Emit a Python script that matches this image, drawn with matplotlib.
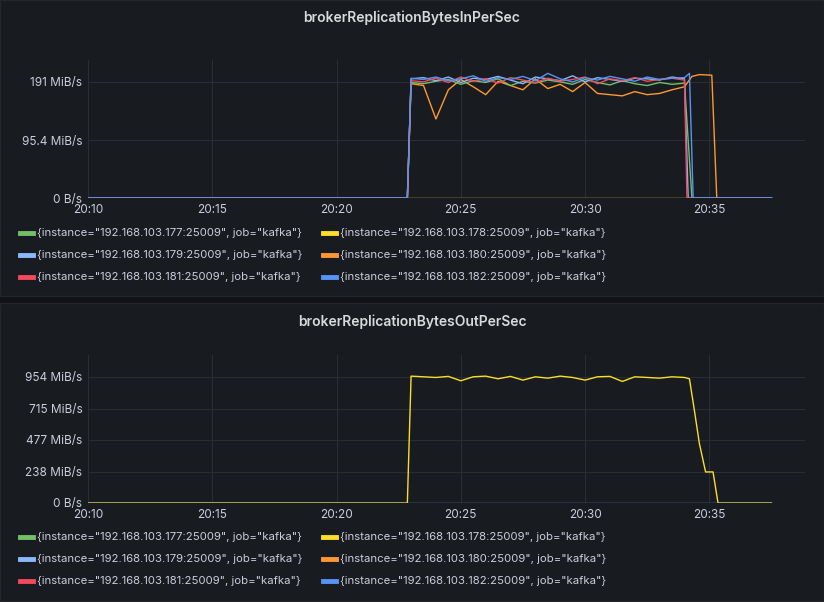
import matplotlib
matplotlib.use("Agg")
import matplotlib.pyplot as plt
from matplotlib.patches import Rectangle
from matplotlib.lines import Line2D

plt.rcParams["font.family"] = ["Inter", "DejaVu Sans"]

# time in minutes after 20:00
plateau_t = [23.0, 23.5, 24.0, 24.5, 25.0, 25.5, 26.0, 26.5, 27.0, 27.5, 28.0, 28.5,
             29.0, 29.5, 30.0, 30.5, 31.0, 31.5, 32.0, 32.5, 33.0, 33.5, 34.0]

in_green = [190, 188, 192, 195, 187, 193, 190, 196, 185, 192, 189, 194, 191, 187, 195, 190, 186, 193, 188, 185, 190, 187, 189]
in_lblue = [196, 198, 193, 199, 190, 197, 195, 200, 194, 188, 199, 196, 193, 201, 191, 198, 195, 192, 197, 196, 194, 199, 196]
in_red = [193, 191, 197, 190, 199, 192, 196, 189, 198, 194, 190, 197, 192, 195, 199, 188, 196, 193, 198, 192, 195, 197, 194]
in_blue = [197, 195, 199, 193, 196, 201, 192, 198, 195, 200, 193, 205, 196, 191, 198, 194, 200, 196, 192, 199, 195, 197, 198]
in_orange = [188, 185, 130, 178, 195, 183, 170, 192, 185, 178, 196, 180, 187, 175, 190, 172, 170, 168, 175, 170, 172, 178, 183]

green_tail_t, green_tail = [34.3], [0]
lblue_tail_t, lblue_tail = [34.15], [0]
red_tail_t, red_tail = [34.1], [0]
blue_tail_t, blue_tail = [34.2, 34.35], [205, 0]
orange_tail_t, orange_tail = [34.3, 34.6, 35.1, 35.3], [200, 203, 202, 0]

out_yellow = [960, 955, 950, 958, 925, 955, 960, 940, 958, 930, 955, 945, 960, 950, 930, 955, 958, 920, 955, 950, 945, 955, 950]
out_tail_t = [34.2, 34.4, 34.6, 34.85, 35.15, 35.35]
out_tail = [940, 700, 450, 235, 235, 0]

start_t = [10.0, 22.85]
labels = ['{instance="192.168.103.177:25009", job="kafka"}', '{instance="192.168.103.178:25009", job="kafka"}',
          '{instance="192.168.103.179:25009", job="kafka"}', '{instance="192.168.103.180:25009", job="kafka"}',
          '{instance="192.168.103.181:25009", job="kafka"}', '{instance="192.168.103.182:25009", job="kafka"}']
colors = ["#73BF69", "#FADE2A", "#8AB8FF", "#FF9830", "#F2495C", "#5794F2"]
GREEN, YELLOW, LBLUE, ORANGE, RED, BLUE = colors

W, H = 824, 602
fig = plt.figure(figsize=(W / 100, H / 100), dpi=100, facecolor="#111217")
for y0, y1 in [(0, 296), (303, 601)]:
    fig.patches.append(Rectangle((0, 1 - y1 / H), 1, (y1 - y0) / H, transform=fig.transFigure,
                                 facecolor="#181b1f", edgecolor="#24262b", lw=1, zorder=0))

txt = "#ccccdc"
flat_t = [10.0, 37.5]


def style(ax, ylim, ticks, ticklabels):
    ax.set_zorder(2)
    ax.set_facecolor("#181b1f")
    ax.set_xlim(10.0, 38.85)
    ax.set_ylim(*ylim)
    ax.set_xticks([10, 15, 20, 25, 30, 35])
    ax.set_xticklabels(["20:10", "20:15", "20:20", "20:25", "20:30", "20:35"])
    ax.set_yticks(ticks)
    ax.set_yticklabels(ticklabels)
    ax.grid(True, color="#2a2d33", lw=0.8)
    for s in ax.spines.values():
        s.set_visible(False)
    ax.tick_params(colors=txt, labelsize=8.5, length=0, pad=4)


def legend(top):
    for i, (lab, c) in enumerate(zip(labels, colors)):
        col, row = i % 2, i // 2
        xm = 20 if col == 0 else 323
        y = 1 - (top + row * 22) / H
        fig.add_artist(Line2D([xm / W, (xm + 13) / W], [y, y], color=c, lw=3.5, transform=fig.transFigure))
        fig.text((xm + 17) / W, y, lab, color=txt, fontsize=8.2, va="center")


# top panel
ax1 = fig.add_axes([88 / W, 1 - 198 / H, (805 - 88) / W, (198 - 60) / H])
style(ax1, (0, 227), [0, 95.4, 191], ["0 B/s", "95.4 MiB/s", "191 MiB/s"])
ax1.plot(flat_t, [0, 0], color=YELLOW, lw=1)
for vals, tt, tv, c in [(in_orange, orange_tail_t, orange_tail, ORANGE),
                        (in_green, green_tail_t, green_tail, GREEN),
                        (in_lblue, lblue_tail_t, lblue_tail, LBLUE),
                        (in_red, red_tail_t, red_tail, RED),
                        (in_blue, blue_tail_t, blue_tail, BLUE)]:
    ax1.plot(start_t + plateau_t + tt + [37.5], [0, 0] + vals + tv + [0], color=c, lw=1)
ax1.plot([10.0, 22.85], [0, 0], color=BLUE, lw=1)
ax1.plot([34.4, 37.5], [0, 0], color=BLUE, lw=1)
fig.text(0.5, 1 - 18 / H, "brokerReplicationBytesInPerSec", color="#d8d9da", fontsize=10,
         fontweight="semibold", ha="center", va="center")
legend(233)

# bottom panel
ax2 = fig.add_axes([88 / W, 1 - 503 / H, (805 - 88) / W, (503 - 355) / H])
style(ax2, (0, 1120), [0, 238, 477, 715, 954], ["0 B/s", "238 MiB/s", "477 MiB/s", "715 MiB/s", "954 MiB/s"])
ax2.plot(start_t + plateau_t + out_tail_t + [37.5], [0, 0] + out_yellow + out_tail + [0], color=YELLOW, lw=1)
ax2.plot(flat_t, [0, 0], color=BLUE, lw=1)
fig.text(0.5, 1 - 322 / H, "brokerReplicationBytesOutPerSec", color="#d8d9da", fontsize=10,
         fontweight="semibold", ha="center", va="center")
legend(537)

fig.savefig("out.png", dpi=100, facecolor=fig.get_facecolor())
